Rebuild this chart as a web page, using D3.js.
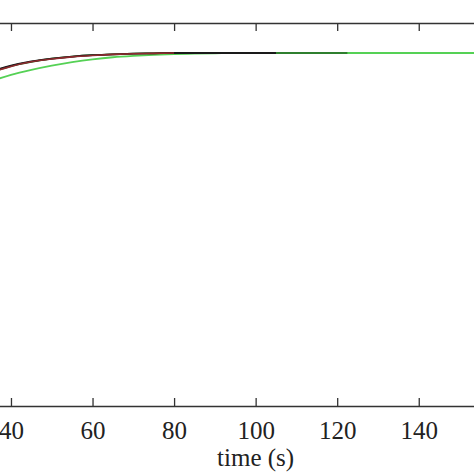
<!DOCTYPE html>
<html>
<head>
<meta charset="utf-8">
<script src="https://cdn.jsdelivr.net/npm/d3@7"></script>
<style>
  html, body { margin: 0; padding: 0; background: #fff; }
  svg { display: block; }
  .serif { font-family: 'Liberation Serif', 'DejaVu Serif', serif; }
</style>
</head>
<body>
<svg id="chart" width="474" height="474"></svg>
<script>
// ---- data ----
const times      = [35, 40, 45, 50, 55, 60, 65, 70, 75, 80, 85, 90, 95, 100, 105, 110, 115, 120, 122.5, 125, 130, 135, 140, 145, 150, 155];
const blackVals  = [0.947, 0.964, 0.976, 0.984, 0.990, 0.994, 0.996, 0.998, 0.999, 1.000, 1.000, 1.000, 1.000, 1.000, 1.000];
const redVals    = [0.944, 0.962, 0.975, 0.983, 0.989, 0.993, 0.996, 0.998, 0.999, 1.000];
const dkGreenVals= [0.945, 0.963, 0.975, 0.984, 0.990, 0.994, 0.996, 0.998, 0.999, 1.000, 1.000, 1.000, 1.000, 1.000, 1.000, 1.000, 1.000, 1.000, 1.000];
const ltGreenVals= [0.920, 0.938, 0.952, 0.964, 0.974, 0.982, 0.988, 0.992, 0.995, 0.997, 0.998, 0.999, 1.000, 1.000, 1.000, 1.000, 1.000, 1.000, 1.000, 1.000, 1.000, 1.000, 1.000, 1.000, 1.000, 1.000];
const xTicks     = [40, 60, 80, 100, 120, 140, 160];
const xTickLabels= ["40", "60", "80", "100", "120", "140", ""];
const xLabel     = "time (s)";

(function () {
const svg = d3.select("#chart");
const plotTop = 23, plotBottom = 406;
const x = d3.scaleLinear().domain([30, 160]).range([-29.8, 500.3]);
const y = d3.scaleLinear().domain([0, 1.085]).range([plotBottom, plotTop]);

const drawOrder = [
  { vals: ltGreenVals, color: "#55d155", w: 1.8 },
  { vals: dkGreenVals, color: "#2f7f2f", w: 1.8 },
  { vals: blackVals,   color: "#1a1a1a", w: 1.8 },
  { vals: redVals,     color: "#8e2a2e", w: 1.6 }
];

svg.append("defs").append("clipPath").attr("id", "clip")
  .append("rect").attr("x", x(30)).attr("y", plotTop)
  .attr("width", x(160) - x(30)).attr("height", plotBottom - plotTop);

const line = d3.line()
  .x((d, i) => x(times[i]))
  .y(d => y(d))
  .curve(d3.curveMonotoneX);

const g = svg.append("g").attr("clip-path", "url(#clip)");
drawOrder.forEach(s => {
  g.append("path")
    .datum(s.vals)
    .attr("fill", "none")
    .attr("stroke", s.color)
    .attr("stroke-width", s.w)
    .attr("stroke-linejoin", "round")
    .attr("d", line);
});

const font = "'Liberation Serif', 'DejaVu Serif', serif";
const axB = svg.append("g").attr("transform", `translate(0,${plotBottom})`)
  .call(d3.axisBottom(x).tickValues(xTicks).tickSizeInner(-8).tickSizeOuter(0).tickPadding(15)
    .tickFormat((d, i) => xTickLabels[i]));
const axT = svg.append("g").attr("transform", `translate(0,${plotTop})`)
  .call(d3.axisTop(x).tickValues(xTicks).tickSizeInner(-8).tickSizeOuter(0).tickFormat(""));
[axB, axT].forEach(a => {
  a.attr("font-family", font).attr("font-size", 25);
  a.select(".domain").attr("stroke", "#333").attr("stroke-width", 1.3);
  a.selectAll(".tick line").attr("stroke", "#333").attr("stroke-width", 1.3);
});
axB.selectAll(".tick text")
  .attr("class", "serif")
  .attr("fill", "#222")
  .attr("font-family", font)
  .attr("font-size", 25);

svg.append("text")
  .attr("class", "serif")
  .attr("x", x(100))
  .attr("y", 466)
  .attr("text-anchor", "middle")
  .attr("fill", "#222")
  .attr("font-family", font)
  .attr("font-size", 25)
  .text(xLabel);
})();
</script>
</body>
</html>
